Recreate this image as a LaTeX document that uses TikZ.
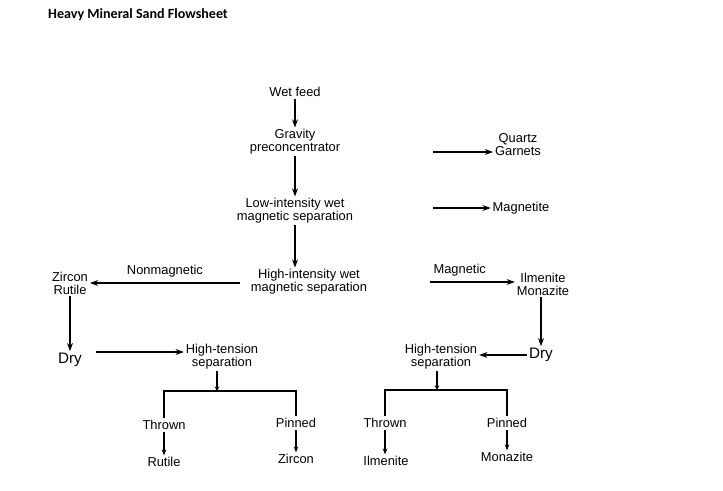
\documentclass[tikz,border=0pt]{standalone}
\usepackage{fontspec}
\setmainfont{Liberation Sans}
\newfontfamily\titlefont{Carlito}
\usetikzlibrary{positioning,arrows.meta,calc}

\begin{document}
\begin{tikzpicture}[x=0.03cm,y=-0.03cm,>={Stealth[length=7pt,width=5pt]},
	lbl/.style={align=center,font=\fontsize{11}{11}\selectfont,inner sep=1.5pt},
	flow/.style={->,line width=1pt}]
	\useasboundingbox (0,0) rectangle (723,490);
	\node[anchor=west,font=\titlefont\bfseries\fontsize{12}{14}\selectfont] (Title) at (44,15) {Heavy Mineral Sand Flowsheet};
	% main column
	\node[lbl] (WetFeed) at (295,92) {Wet feed};
	\node[lbl] (Gravity) at (295,142) {Gravity\\preconcentrator};
	\node[lbl] (LowInt) at (295,211) {Low-intensity wet\\magnetic separation};
	\node[lbl] (HighInt) at (309,282) {High-intensity wet\\magnetic separation};
	\node[lbl] (Quartz) at (518,145) {Quartz\\Garnets};
	\node[lbl] (Magnetite) at (521,208) {Magnetite};
	\node[lbl] (ZirRut) at (70,283) {Zircon\\Rutile};
	\node[lbl] (IlmMon) at (543,284) {Ilmenite\\Monazite};
	\draw[flow] (WetFeed) -- (WetFeed |- Gravity.north);
	\draw[flow] (Gravity) -- (LowInt);
	\draw[flow] (LowInt) -- (LowInt |- HighInt.north);
	\coordinate (QuartzIn) at (433,152);
	\coordinate (MagIn) at (433,208);
	\draw[flow] (QuartzIn) -- (QuartzIn -| Quartz.west);
	\draw[flow] (MagIn) -- (Magnetite);
	\coordinate (NonmagOut) at (240,283);
	\coordinate (MagOut) at (430,282);
	\draw[flow] (NonmagOut) -- (NonmagOut -| ZirRut.east) node[lbl,midway,above=3pt] {Nonmagnetic};
	\draw[flow] (MagOut) -- (MagOut -| IlmMon.west) node[lbl,pos=0.35,above=3pt] {Magnetic};
	% drying
	\node[lbl,font=\fontsize{13}{13}\selectfont] (DryL) at (70,360) {Dry};
	\node[lbl,font=\fontsize{13}{13}\selectfont] (DryR) at (541,355) {Dry};
	\node[lbl] (HTL) at (222,357) {High-tension\\separation};
	\node[lbl] (HTR) at (441,357) {High-tension\\separation};
	\draw[flow] (ZirRut) -- (DryL);
	\draw[flow] (IlmMon.south -| DryR) -- (DryR);
	\coordinate (DryLOut) at (96,352);
	\draw[flow] (DryLOut) -- (DryLOut -| HTL.west);
	\draw[flow] (DryR) -- (DryR -| HTR.east);
	% products
	\node[lbl] (ThrownL) at (164,425) {Thrown};
	\node[lbl] (PinnedL) at (296,423) {Pinned};
	\node[lbl] (ThrownR) at (385,423) {Thrown};
	\node[lbl] (PinnedR) at (507,423) {Pinned};
	\node[lbl] (Rutile) at (164,462) {Rutile};
	\node[lbl] (Zircon) at (296,459) {Zircon};
	\node[lbl] (Ilmenite) at (386,461) {Ilmenite};
	\node[lbl] (Monazite) at (507,457) {Monazite};
	\coordinate (SplitL) at (217,391);
	\coordinate (SplitR) at (437,390);
	\draw[flow,-{Stealth[length=4pt,width=4pt]}] (HTL.south -| SplitL) -- (SplitL);
	\draw[flow,-{Stealth[length=4pt,width=4pt]}] (HTR.south -| SplitR) -- (SplitR);
	\draw[line width=1.3pt] (ThrownL.north) |- (SplitL) -| (PinnedL.north);
	\draw[line width=1.3pt] (ThrownR.north) |- (SplitR) -| (PinnedR.north);
	\foreach \a/\b in {ThrownL/Rutile,PinnedL/Zircon,ThrownR/Ilmenite,PinnedR/Monazite}
		\draw[flow,-{Stealth[length=5pt,width=4pt]}] (\a) -- (\a |- \b.north);
\end{tikzpicture}
\end{document}
